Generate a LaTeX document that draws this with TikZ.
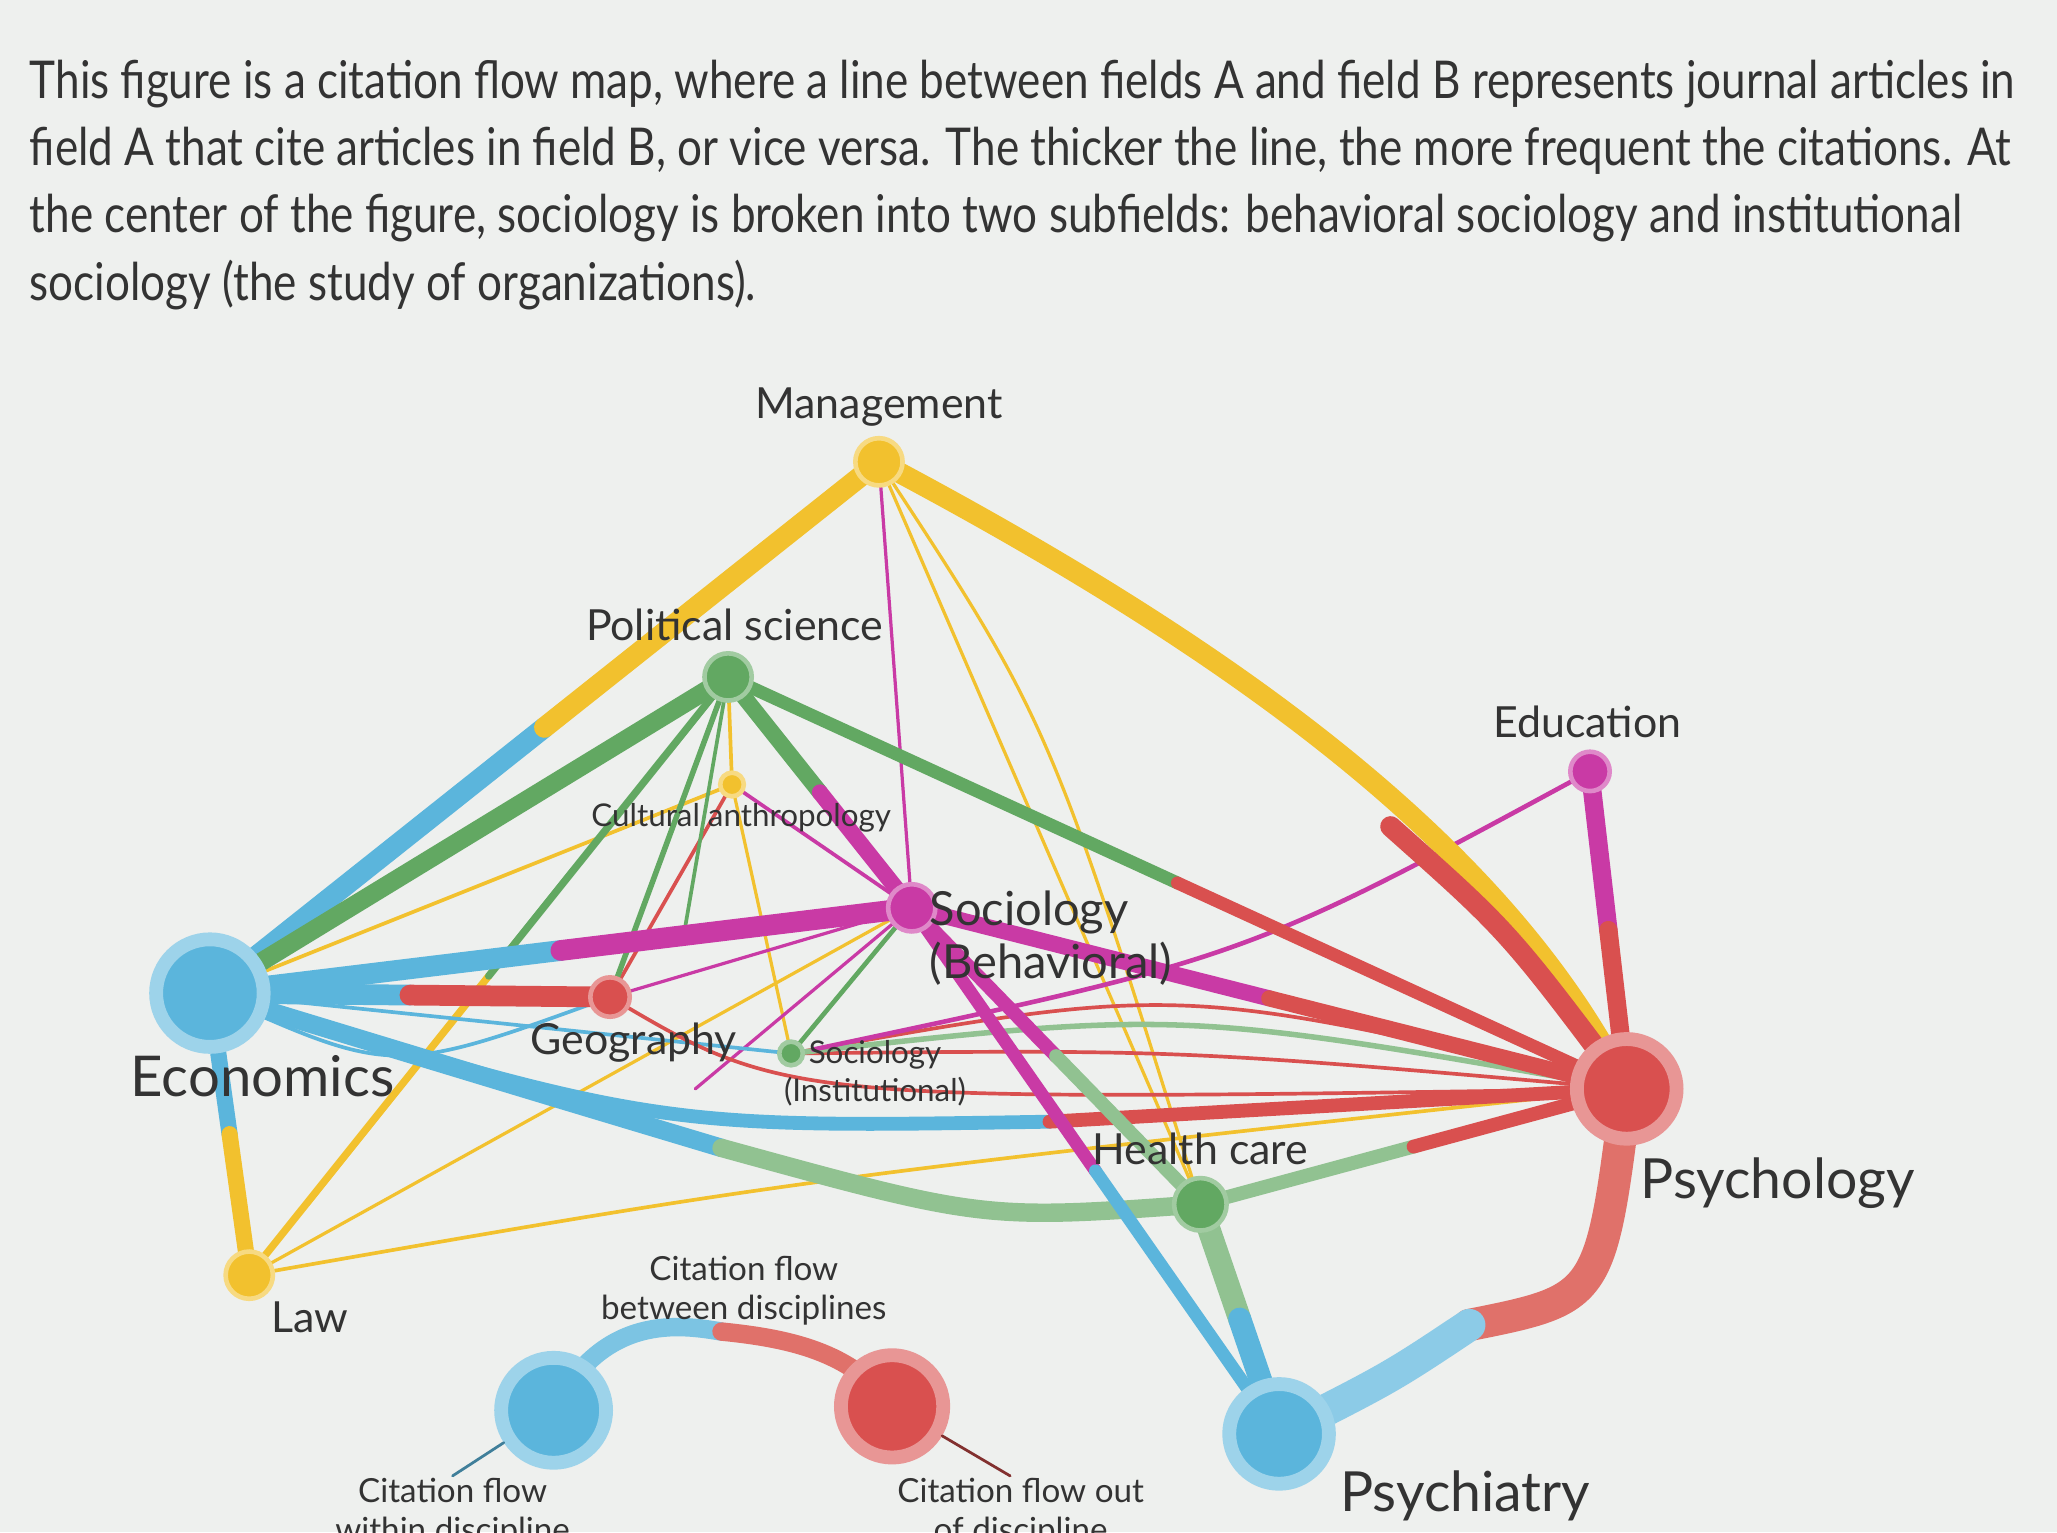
\documentclass[tikz,border=0pt]{standalone}
\usepackage{fontspec}
\usepackage{graphicx}
\setmainfont{Lato}
\usetikzlibrary{calc}
\definecolor{bg}{HTML}{EEF0EE}
\definecolor{colB}{HTML}{5BB5DC}
\definecolor{colG}{HTML}{62A862}
\definecolor{colY}{HTML}{F2C12E}
\definecolor{colM}{HTML}{C93AA5}
\definecolor{colR}{HTML}{D9504F}
\definecolor{colRb}{HTML}{E0716A}
\definecolor{txt}{HTML}{333333}
\newcommand{\flow}[5]{\draw[#3,line width=#5] (#1) -- ($(#1)!0.5!(#2)$);\draw[#4,line width=#5] ($(#1)!0.5!(#2)$) -- (#2);}
\newcommand{\nl}[1]{\scalebox{0.845}[1]{#1}}
\tikzset{lab/.style={text=txt,inner sep=0pt},
 dot/.style={circle,inner sep=0pt,draw=#1!60!white,line width=1pt,fill=#1}}
\begin{document}
\begin{tikzpicture}[x=1cm,y=1cm,line cap=round]
\fill[bg] (0,0) rectangle (15.68,-11.68);
\useasboundingbox (0,0) rectangle (15.68,-11.68);
\node[lab,anchor=north west,font=\fontsize{11.3}{14.6}\selectfont,align=left] (intro) at (0.22,-0.45) {\nl{This figure is a citation flow map, where a line between fields A and field B represents journal articles in}\\\nl{field A that cite articles in field B, or vice versa. The thicker the line, the more frequent the citations. At}\\\nl{the center of the figure, sociology is broken into two subfields: behavioral sociology and institutional}\\\nl{sociology (the study of organizations).}};
% coordinates
\coordinate (man) at (6.70,-3.52);
\coordinate (pol) at (5.55,-5.16);
\coordinate (cul) at (5.58,-5.98);
\coordinate (sb) at (6.95,-6.92);
\coordinate (eco) at (1.60,-7.57);
\coordinate (geo) at (4.65,-7.60);
\coordinate (si) at (6.03,-8.03);
\coordinate (edu) at (12.12,-5.88);
\coordinate (psy) at (12.40,-8.30);
\coordinate (hc) at (9.15,-9.18);
\coordinate (law) at (1.90,-9.72);
\coordinate (pst) at (9.75,-10.93);
\coordinate (la) at (4.22,-10.75);
\coordinate (lb) at (6.80,-10.72);
% thin lines
\draw[colY,line width=0.7pt] (man) -- (hc);
\draw[colM,line width=0.7pt] (man) -- (sb);
\draw[colY,line width=0.7pt] (man) .. controls (8.0,-5.5) .. (hc);
\draw[colY,line width=0.8pt] (cul) -- (eco);
\draw[colR,line width=0.8pt] (cul) -- (geo);
\draw[colY,line width=0.7pt] (cul) -- (si);
\draw[colM,line width=0.8pt] (cul) -- (sb);
\draw[colY,line width=0.8pt] (pol) -- (cul);
\draw[colG,line width=1.2pt] (pol) -- (geo);
\draw[colG,line width=0.8pt] (pol) -- (5.2,-7.2);
\flow{law}{pol}{colY}{colG}{1.6pt}
\draw[colY,line width=0.7pt] (law) -- (sb);
\draw[colY,line width=0.8pt] (law) .. controls (6,-9.0) .. (psy);
\draw[colM,line width=0.7pt] (geo) -- (sb);
\draw[colM,line width=0.7pt] (sb) -- (si);
\draw[colM,line width=0.7pt] (sb) -- (5.3,-8.3);
\draw[colG,line width=1pt] (si) -- (sb);
\draw[colB,line width=0.8pt] (eco) -- (si);
\draw[colR,line width=0.8pt] (geo) .. controls (6,-8.4) .. (psy);
\draw[colR,line width=0.8pt] (si) .. controls (9,-7.5) .. (psy);
\draw[colR,line width=0.8pt] (si) .. controls (9,-8.0) .. (psy);
\draw[colG!70,line width=1.2pt] (si) .. controls (9,-7.7) .. (psy);
\draw[colM,line width=1pt] (edu) .. controls (9.5,-7.3) .. (6.2,-8.0);
\draw[colB,line width=0.8pt] (eco) .. controls (3,-8.2) .. (geo);
% medium/thick
\flow{eco}{man}{colB}{colY}{4.5pt}
\draw[colY,line width=4.5pt] (man) .. controls (9.5,-5.0) and (11.5,-6.5) .. (psy);
\draw[colR,line width=4.5pt] (10.6,-6.3) .. controls (11.5,-7.1) .. (psy);
\draw[colG,line width=4pt] (eco) -- (pol);
\flow{pol}{psy}{colG}{colR}{2.8pt}
\flow{pol}{sb}{colG}{colM}{3.5pt}
\flow{eco}{sb}{colB}{colM}{4.5pt}
\flow{eco}{geo}{colB}{colR}{4.5pt}
\draw[colB,line width=3pt] (eco) .. controls (5,-8.6) .. (8,-8.55);
\draw[colR,line width=3pt] (8,-8.55) -- (psy);
\draw[colB,line width=4pt] (eco) .. controls (4,-8.3) .. (5.5,-8.75);
\draw[colG!70,line width=4pt] (5.5,-8.75) .. controls (7.5,-9.3) .. (hc);
\flow{eco}{law}{colB}{colY}{3.5pt}
\flow{sb}{psy}{colM}{colR}{3.5pt}
\flow{sb}{hc}{colM}{colG!70}{3pt}
\flow{sb}{pst}{colM}{colB}{2.8pt}
\flow{edu}{psy}{colM}{colR}{4pt}
\flow{hc}{psy}{colG!70}{colR}{3pt}
\flow{hc}{pst}{colG!70}{colB}{5pt}
\draw[colRb,line width=7pt] (psy) .. controls (12.2,-9.9) .. (11.2,-10.1);
\draw[colB!70,line width=7pt] (11.2,-10.1) .. controls (10.6,-10.5) .. (pst);
% legend
\draw[colB!80,line width=4pt] (la) .. controls (4.6,-10.0) and (5.2,-10.1) .. (5.5,-10.15);
\draw[colRb,line width=4pt] (5.5,-10.15) .. controls (6.0,-10.2) and (6.5,-10.3) .. (lb);
% nodes
\node[dot=colY,minimum size=0.36cm] (nman) at (man) {};
\node[dot=colG,minimum size=0.36cm] (npol) at (pol) {};
\node[dot=colY,minimum size=0.18cm] (ncul) at (cul) {};
\node[dot=colM,minimum size=0.36cm] (nsb) at (sb) {};
\node[dot=colB,minimum size=0.82cm,line width=3pt] (neco) at (eco) {};
\node[dot=colR,minimum size=0.30cm] (ngeo) at (geo) {};
\node[dot=colG,minimum size=0.18cm] (nsi) at (si) {};
\node[dot=colM,minimum size=0.30cm] (nedu) at (edu) {};
\node[dot=colR,minimum size=0.76cm,line width=3pt] (npsy) at (psy) {};
\node[dot=colG,minimum size=0.40cm] (nhc) at (hc) {};
\node[dot=colY,minimum size=0.36cm] (nlaw) at (law) {};
\node[dot=colB,minimum size=0.76cm,line width=3pt] (npst) at (pst) {};
\node[dot=colB,minimum size=0.80cm,line width=3pt] (nla) at (la) {};
\node[dot=colR,minimum size=0.78cm,line width=3pt] (nlb) at (lb) {};
% labels
\node[lab,font=\fontsize{9.3}{11}\selectfont] (tman) at (6.70,-3.10) {Management};
\node[lab,font=\fontsize{9.3}{11}\selectfont] (tpol) at (5.60,-4.76) {Political science};
\node[lab,font=\fontsize{6.8}{8}\selectfont] (tcul) at (5.65,-6.23) {Cultural anthropology};
\node[lab,font=\fontsize{10.2}{11.5}\selectfont,align=left,anchor=west] (tsb) at (7.08,-7.15) {Sociology\\(Behavioral)};
\node[lab,font=\fontsize{12.2}{14}\selectfont] (teco) at (2.00,-8.20) {Economics};
\node[lab,font=\fontsize{9.3}{11}\selectfont] (tgeo) at (4.83,-7.95) {Geography};
\node[lab,font=\fontsize{6.8}{8.2}\selectfont,align=center] (tsi) at (6.67,-8.18) {Sociology\\(Institutional)};
\node[lab,font=\fontsize{9.3}{11}\selectfont] (tedu) at (12.10,-5.50) {Education};
\node[lab,font=\fontsize{12}{14}\selectfont] (tpsy) at (13.55,-9.02) {Psychology};
\node[lab,font=\fontsize{9.3}{11}\selectfont] (thc) at (9.15,-8.76) {Health care};
\node[lab,font=\fontsize{9.3}{11}\selectfont] (tlaw) at (2.36,-10.04) {Law};
\node[lab,font=\fontsize{12}{14}\selectfont] (tpst) at (11.17,-11.40) {Psychiatry};
\node[lab,font=\fontsize{7.2}{8.4}\selectfont,align=center] (tflow) at (5.67,-9.84) {Citation flow\\between disciplines};
\node[lab,font=\fontsize{7.2}{8.4}\selectfont,align=center,anchor=north] (tla) at (3.45,-11.26) {Citation flow\\within discipline};
\node[lab,font=\fontsize{7.2}{8.4}\selectfont,align=center,anchor=north] (tlb) at (7.78,-11.26) {Citation flow out\\of discipline};
\draw[colB!70!black,line width=0.6pt] (3.45,-11.25) -- (nla);
\draw[colR!60!black,line width=0.6pt] (7.7,-11.25) -- (nlb);
\end{tikzpicture}
\end{document}
